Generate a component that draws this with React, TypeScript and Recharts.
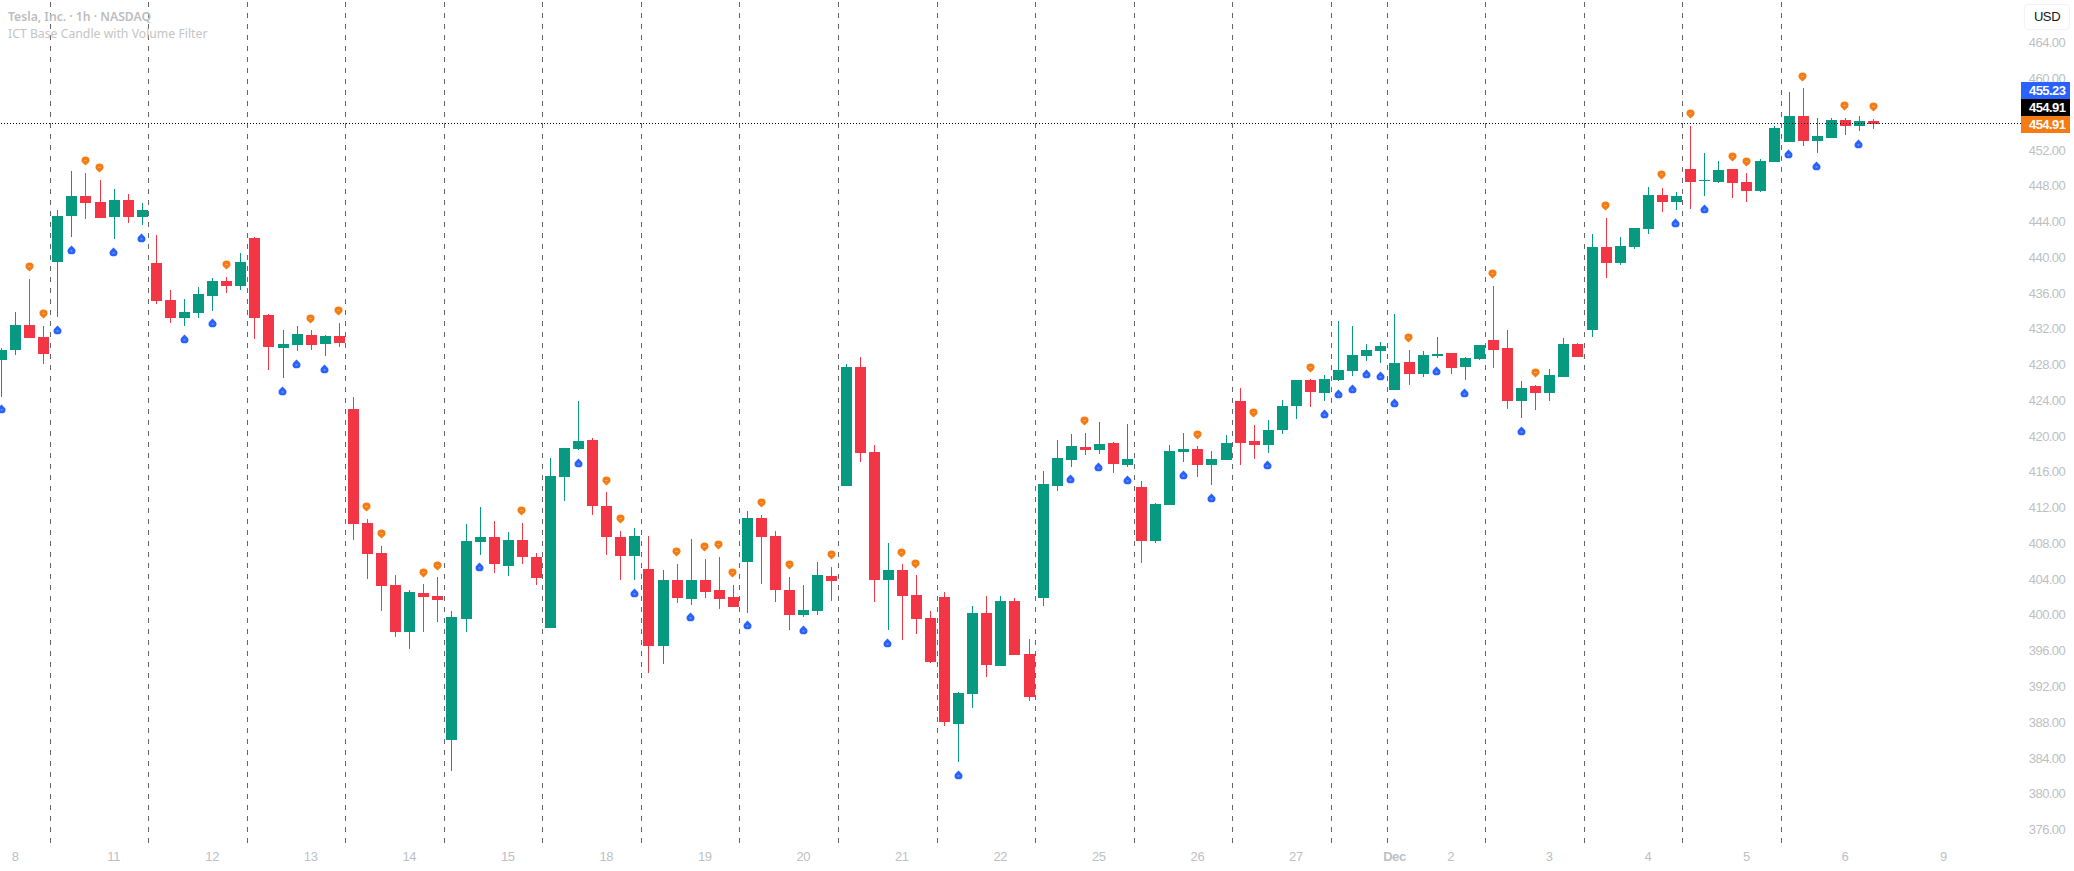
import React from 'react';
import { ComposedChart, Bar, Line, XAxis, YAxis, ReferenceLine } from 'recharts';

const opens = [
  428.51,429.63,432.42,431.08,439.47,444.62,446.85,446.18,444.50,446.41,
  444.50,439.36,435.22,433.21,433.77,435.67,437.34,436.78,442.15,433.54,
  429.85,430.19,431.31,430.30,431.19,423.03,410.27,406.92,403.34,398.08,
  402.44,402.11,386.00,399.53,408.15,408.71,405.46,408.37,406.47,398.53,
  415.42,418.55,419.56,412.18,408.71,406.58,405.13,396.52,403.90,401.77,
  403.90,402.78,402.00,405.91,410.83,408.82,402.78,399.98,400.43,404.35,
  414.41,427.72,418.22,403.90,405.02,402.22,399.65,401.99,387.79,391.15,
  400.21,394.28,401.55,395.62,401.89,414.41,417.32,418.78,418.44,419.22,
  416.76,414.30,408.26,412.29,418.22,418.55,416.76,417.32,423.92,419.45,
  419.00,420.68,423.36,426.27,424.81,426.27,427.28,428.96,429.51,425.15,
  428.28,426.94,428.96,429.29,427.72,428.62,430.74,429.85,423.92,425.60,
  424.82,426.61,430.30,431.86,441.15,439.36,441.15,443.16,446.96,446.18,
  449.87,448.53,448.42,449.87,448.42,447.41,450.65,452.89,455.80,453.00,
  453.34,455.35,454.68,455.24,
];
const closes = [
  429.63,432.42,430.97,429.18,444.62,446.85,446.07,444.39,446.41,444.50,
  445.29,435.11,433.21,433.88,435.89,437.34,436.78,439.47,433.21,429.96,
  430.30,431.42,430.19,431.19,430.41,410.16,406.81,403.23,398.08,402.56,
  402.00,401.66,399.76,408.26,408.71,405.69,408.37,406.47,404.12,415.53,
  418.66,419.45,412.18,408.71,406.58,408.82,396.52,403.90,401.89,403.90,
  402.56,401.77,400.88,410.83,408.71,402.78,399.98,400.54,404.46,403.79,
  427.72,418.10,403.90,405.02,402.11,399.54,394.73,388.02,391.26,400.21,
  394.39,401.55,395.51,390.81,414.64,417.54,418.89,418.44,419.11,416.87,
  417.43,408.26,412.40,418.33,418.55,416.76,417.43,419.22,419.22,419.00,
  420.68,423.36,426.27,424.93,426.38,427.39,429.07,429.63,430.07,428.17,
  426.94,429.07,429.18,427.61,428.73,430.19,429.63,423.92,425.38,424.82,
  426.83,430.30,428.84,441.15,439.36,441.26,443.27,446.96,446.18,446.85,
  448.42,448.64,449.76,448.31,447.41,450.77,454.46,455.80,453.00,453.56,
  455.35,454.68,455.24,454.91,
];
const highs = [
  429.85,433.88,437.57,432.31,445.29,449.65,449.43,448.64,447.64,447.08,
  446.07,442.49,436.34,435.33,436.67,437.68,437.79,440.48,442.27,433.65,
  431.87,432.31,431.87,431.31,432.65,424.37,410.72,407.70,404.46,402.78,
  403.45,404.23,400.43,410.16,412.06,410.50,409.27,410.27,406.92,417.54,
  418.66,423.92,419.78,413.74,409.38,409.71,408.82,405.02,405.69,408.48,
  406.25,406.47,403.34,411.62,411.17,409.38,404.23,403.34,405.91,405.35,
  428.06,428.84,419.00,408.04,405.69,404.46,400.43,402.56,391.37,400.99,
  402.11,402.11,401.88,397.30,416.09,419.56,420.23,420.34,421.57,419.33,
  421.35,414.97,412.51,419.00,420.34,418.89,418.33,420.12,425.37,421.24,
  421.79,424.03,426.27,426.38,426.83,432.87,432.31,430.30,430.52,433.65,
  429.63,429.52,431.08,429.29,428.84,430.19,436.78,431.86,426.16,425.71,
  427.50,430.97,430.41,442.60,444.39,442.26,443.27,447.86,447.75,447.30,
  454.68,451.66,450.77,449.87,449.42,451.00,454.68,458.48,458.93,455.58,
  455.58,455.58,455.80,455.46,
];
const lows = [
  424.41,429.07,430.97,428.06,433.32,442.27,444.28,444.39,442.04,443.83,
  443.61,434.77,432.65,432.31,433.21,433.99,436.00,436.34,430.86,427.39,
  426.50,429.52,429.63,428.96,429.96,408.37,404.01,400.43,397.52,396.18,
  398.08,399.20,382.53,398.08,406.69,404.68,404.35,405.69,403.34,398.53,
  412.73,418.44,411.17,406.69,403.90,403.90,393.50,394.50,401.33,401.10,
  401.89,400.65,400.88,400.21,403.45,401.44,398.30,399.76,399.98,401.55,
  414.41,417.10,401.44,398.30,397.19,397.86,394.62,387.57,383.54,389.58,
  393.05,394.28,395.51,390.36,400.99,413.85,416.54,417.88,417.99,415.87,
  416.54,405.80,408.04,412.29,417.10,415.42,414.52,417.32,416.76,417.43,
  418.10,420.23,421.91,423.25,423.92,426.16,426.72,428.40,428.17,425.15,
  425.71,426.61,428.73,426.94,426.27,428.51,427.61,423.03,422.02,422.91,
  423.92,426.61,428.84,431.08,437.68,439.13,440.92,442.60,445.06,445.29,
  445.40,446.85,448.31,446.63,446.18,447.30,450.65,452.89,452.45,451.66,
  453.34,453.67,454.12,454.34,
];

const orangeMarks: [number, number][] = [
  [2,438.91],[3,433.65],[6,450.77],[7,450.02],[16,439.13],[22,433.13],[24,434.03],[26,412.06],
  [27,409.08],[30,404.72],[31,405.5],[37,411.62],[43,415.0],[44,410.76],[48,407.07],[50,407.63],
  [51,407.81],[52,404.64],[54,412.51],[56,405.61],[59,406.73],[64,406.96],[65,405.73],[77,421.72],
  [85,420.15],[89,422.54],[93,427.65],[100,430.97],[106,438.13],[109,427.09],[114,445.73],[118,449.16],
  [120,455.99],[123,451.21],[124,450.69],[128,460.2],[131,456.96],[133,456.84],
];
const blueMarks: [number, number][] = [
  [0,422.99],[4,431.87],[5,440.81],[8,440.63],[10,442.15],[13,430.86],[15,432.65],[20,425.08],
  [21,428.06],[23,427.5],[34,405.31],[41,416.98],[45,402.48],[49,399.76],[53,398.83],[57,398.3],
  [63,396.89],[68,382.12],[76,415.2],[78,416.58],[80,415.12],[84,415.68],[86,413.1],[90,416.76],
  [94,422.47],[95,424.7],[96,425.3],[97,426.98],[98,426.75],[99,423.74],[102,427.31],[104,424.82],
  [108,420.6],[119,443.87],[121,445.4],[127,451.55],[129,450.24],[132,452.67],
];

const sessionStarts = [4,11,18,25,32,39,46,53,60,67,74,81,88,95,99,106,113,120,127];
const dateTicks: [number, string][] = [
  [1,'8'],[8,'11'],[15,'12'],[22,'13'],[29,'14'],[36,'15'],[43,'18'],[50,'19'],[57,'20'],[64,'21'],[71,'22'],
  [78,'25'],[85,'26'],[92,'27'],[99,'Dec'],[103,'2'],[110,'3'],[117,'4'],[124,'5'],[131,'6'],[138,'9'],
];
const priceTicks = [376,380,384,388,392,396,400,404,408,412,416,420,424,428,432,436,440,444,448,452,456,460,464];
const lastPrice = 454.91;
const SLOTS = 144;

const UP = '#089981';
const DOWN = '#F23645';
const ORANGE = '#F57C14';
const BLUE = '#2962FF';
const AXIS_TEXT = '#BDBFC4';
const FONT = '"Liberation Sans", Arial, sans-serif';
const TITLE_FONT = '"Noto Sans", "Open Sans", sans-serif';

const orangeMap = new Map(orangeMarks);
const blueMap = new Map(blueMarks);
const tickLabel = new Map(dateTicks);
const rows = Array.from({ length: SLOTS }, (_, i) => ({
  i,
  open: opens[i],
  close: closes[i],
  high: highs[i],
  low: lows[i],
  range: i < opens.length ? [lows[i], highs[i]] : null,
  orange: orangeMap.get(i) ?? null,
  blue: blueMap.get(i) ?? null,
}));

function Candle(props: any) {
  const { x, y, height, payload } = props;
  if (payload.open == null) return null;
  const k = Math.abs(height) / (payload.high - payload.low);
  const color = payload.close >= payload.open ? UP : DOWN;
  const left = Math.floor(x + 0.5375);
  const top = Math.round(y);
  const bottom = Math.round(y + Math.abs(height));
  const bodyTop = Math.round(y + (payload.high - Math.max(payload.open, payload.close)) * k);
  const bodyBottom = Math.round(y + (payload.high - Math.min(payload.open, payload.close)) * k);
  return (
    <g shapeRendering="crispEdges">
      <rect x={left + 5} y={top} width={1} height={Math.max(bottom - top, 1)} fill={color} />
      <rect x={left} y={bodyTop} width={11} height={Math.max(bodyBottom - bodyTop, 1)} fill={color} />
    </g>
  );
}

function OrangeDrop(props: any) {
  const { cx, cy, index } = props;
  if (cy == null || Number.isNaN(cy)) return <g key={index} />;
  return (
    <g key={index} transform={`translate(${Math.floor(cx) + 0.5},${Math.round(cy)})`}>
      <path d="M0,4.6 L-3.2,1.5 C-3.8,0.8 -4,0 -4,-0.8 A4,3.6 0 0 1 4,-0.8 C4,0 3.8,0.8 3.2,1.5 Z" fill={ORANGE} />
      <rect x={-1.1} y={-1} width={2.2} height={0.9} fill="#FAB77E" />
    </g>
  );
}

function BlueDrop(props: any) {
  const { cx, cy, index } = props;
  if (cy == null || Number.isNaN(cy)) return <g key={index} />;
  return (
    <g key={index} transform={`translate(${Math.floor(cx) + 0.5},${Math.round(cy)})`}>
      <path d="M0,-4.6 L3.2,-1.2 C3.8,-0.5 4,0.2 4,0.9 A4,3.4 0 0 1 -4,0.9 C-4,0.2 -3.8,-0.5 -3.2,-1.2 Z" fill={BLUE} />
      <rect x={-0.9} y={0.3} width={1.8} height={1.3} fill="#86A6FF" />
    </g>
  );
}

function DateTick(props: any) {
  const { x, y, payload } = props;
  const label = tickLabel.get(payload.value) ?? '';
  return (
    <text x={x} y={y + 9} textAnchor="middle" fill={AXIS_TEXT} fontSize={13} fontFamily={FONT} letterSpacing={-0.4} fontWeight={label === 'Dec' ? 700 : 400}>
      {label}
    </text>
  );
}

const priceBoxes: { top: number; color: string; text: string }[] = [
  { top: 82, color: BLUE, text: '455.23' },
  { top: 99, color: '#000000', text: '454.91' },
  { top: 116, color: ORANGE, text: lastPrice.toFixed(2) },
];

export default function App() {
  return (
    <div style={{ position: 'fixed', left: 0, top: 0, width: 2074, height: 871, overflow: 'hidden', background: '#fff', fontFamily: FONT }}>
      <div style={{ position: 'absolute', left: -5.7275, top: 0 }}>
        <ComposedChart
          width={2080.8}
          height={871}
          data={rows}
          margin={{ top: 0, right: 0, bottom: 0, left: 0 }}
          barCategoryGap={0}
        >
          <XAxis
            dataKey="i"
            type="category"
            height={28}
            ticks={dateTicks.map((t) => t[0])}
            interval={0}
            axisLine={false}
            tickLine={false}
            tickSize={0}
            tickMargin={9}
            tick={<DateTick />}
          />
          <YAxis
            orientation="right"
            type="number"
            width={54}
            domain={[374.48, 468.776]}
            allowDataOverflow
            ticks={priceTicks}
            interval={0}
            tickFormatter={(v: number) => v.toFixed(2)}
            axisLine={false}
            tickLine={false}
            tickSize={0}
            tickMargin={8}
            tick={{ fill: AXIS_TEXT, fontSize: 13, fontFamily: FONT, letterSpacing: -0.55 }}
          />
          {sessionStarts.map((s) => (
            <ReferenceLine key={s} x={s} position="start" stroke="#666666" strokeWidth={1} strokeDasharray="5 6" shapeRendering="crispEdges" />
          ))}
          <Bar dataKey="range" barSize={11} shape={<Candle />} isAnimationActive={false} />
          <Line dataKey="orange" stroke="none" dot={(p: any) => <OrangeDrop {...p} />} activeDot={false} connectNulls={false} isAnimationActive={false} legendType="none" />
          <Line dataKey="blue" stroke="none" dot={(p: any) => <BlueDrop {...p} />} activeDot={false} connectNulls={false} isAnimationActive={false} legendType="none" />
          <ReferenceLine y={lastPrice} stroke="#000000" strokeWidth={1} strokeDasharray="1 2" shapeRendering="crispEdges" />
        </ComposedChart>
      </div>
      <div style={{ position: 'absolute', left: 8, top: 8, fontFamily: TITLE_FONT, fontSize: 12.2, lineHeight: '17px', color: '#BDBDBD', fontWeight: 600, whiteSpace: 'nowrap' }}>
        Tesla, Inc. · 1h · NASDAQ
      </div>
      <div style={{ position: 'absolute', left: 8, top: 25, fontFamily: TITLE_FONT, fontSize: 12.25, lineHeight: '17px', color: '#C4C4C4', whiteSpace: 'nowrap' }}>
        ICT Base Candle with Volume Filter
      </div>
      <div style={{ position: 'absolute', left: 2024, top: 4, width: 46, height: 26, boxSizing: 'border-box', border: '1px solid #F0F3FA', borderRadius: 4, fontSize: 13, lineHeight: '24px', textAlign: 'center', color: '#131722', letterSpacing: -0.4 }}>
        USD
      </div>
      {priceBoxes.map((b) => (
        <div key={b.top} style={{ position: 'absolute', left: 2021, top: b.top, width: 49, height: 17, background: b.color, color: '#fff', fontSize: 13, lineHeight: '17px', fontWeight: 700, letterSpacing: -0.55, paddingLeft: 8, boxSizing: 'border-box' }}>
          {b.text}
        </div>
      ))}
    </div>
  );
}
